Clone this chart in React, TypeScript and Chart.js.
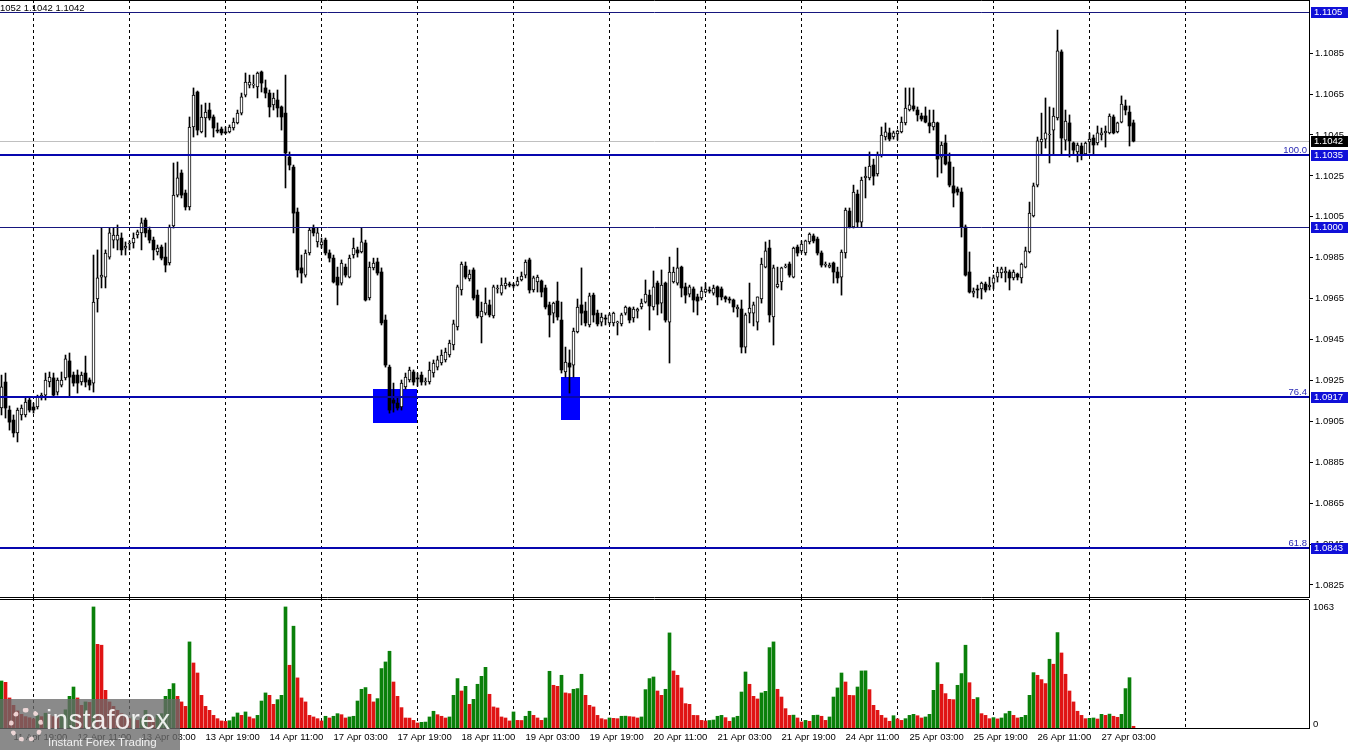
import React, { useEffect, useRef } from 'react';
import { Chart, registerables } from 'chart.js';

Chart.register(...registerables);

// ---------- DATA (EURUSD H1, 11 Apr 16:00 .. 27 Apr 11:00) ----------
const opens = [
  1.09115, 1.09242, 1.09105, 1.09056, 1.08993, 1.09081, 1.09081, 1.09154, 1.09120, 1.09120,
  1.09164, 1.09178, 1.09242, 1.09262, 1.09193, 1.09227, 1.09262, 1.09345, 1.09276, 1.09276,
  1.09242, 1.09286, 1.09252, 1.09237, 1.09648, 1.09755, 1.09755, 1.09853, 1.09936, 1.09936,
  1.09946, 1.09897, 1.09917, 1.09922, 1.09961, 1.09971, 1.10034, 1.09985, 1.09936, 1.09878,
  1.09902, 1.09853, 1.09824, 1.10005, 1.10156, 1.10264, 1.10166, 1.10098, 1.10489, 1.10660,
  1.10465, 1.10533, 1.10572, 1.10538, 1.10474, 1.10479, 1.10465, 1.10465, 1.10484, 1.10509,
  1.10557, 1.10645, 1.10694, 1.10694, 1.10685, 1.10758, 1.10680, 1.10655, 1.10597, 1.10621,
  1.10587, 1.10557, 1.10342, 1.10293, 1.10073, 1.09800, 1.09765, 1.09873, 1.09995, 1.09927,
  1.09912, 1.09936, 1.09873, 1.09848, 1.09755, 1.09726, 1.09804, 1.09755, 1.09863, 1.09888,
  1.09878, 1.09922, 1.09653, 1.09800, 1.09829, 1.09780, 1.09545, 1.09315, 1.09154, 1.09139,
  1.09120, 1.09218, 1.09252, 1.09291, 1.09262, 1.09276, 1.09242, 1.09242, 1.09286, 1.09315,
  1.09335, 1.09350, 1.09374, 1.09423, 1.09511, 1.09692, 1.09809, 1.09746, 1.09790, 1.09667,
  1.09560, 1.09579, 1.09619, 1.09565, 1.09697, 1.09677, 1.09712, 1.09721, 1.09716, 1.09716,
  1.09741, 1.09765, 1.09839, 1.09692, 1.09731, 1.09736, 1.09702, 1.09619, 1.09579, 1.09638,
  1.09545, 1.09291, 1.09335, 1.09325, 1.09487, 1.09619, 1.09589, 1.09521, 1.09667, 1.09579,
  1.09535, 1.09555, 1.09531, 1.09531, 1.09531, 1.09526, 1.09579, 1.09604, 1.09555, 1.09589,
  1.09609, 1.09633, 1.09667, 1.09609, 1.09726, 1.09628, 1.09726, 1.09535, 1.09731, 1.09726,
  1.09804, 1.09707, 1.09672, 1.09697, 1.09658, 1.09653, 1.09682, 1.09692, 1.09677, 1.09707,
  1.09697, 1.09658, 1.09648, 1.09643, 1.09599, 1.09599, 1.09413, 1.09579, 1.09579, 1.09535,
  1.09648, 1.09804, 1.09897, 1.09560, 1.09707, 1.09731, 1.09804, 1.09819, 1.09755, 1.09902,
  1.09883, 1.09873, 1.09927, 1.09956, 1.09941, 1.09873, 1.09814, 1.09804, 1.09824, 1.09780,
  1.09755, 1.09873, 1.10078, 1.10000, 1.10161, 1.10024, 1.10240, 1.10240, 1.10303, 1.10259,
  1.10352, 1.10440, 1.10460, 1.10440, 1.10455, 1.10465, 1.10509, 1.10572, 1.10592, 1.10572,
  1.10543, 1.10543, 1.10509, 1.10489, 1.10509, 1.10342, 1.10411, 1.10318, 1.10201, 1.10186,
  1.10171, 1.10000, 1.09780, 1.09677, 1.09697, 1.09697, 1.09721, 1.09707, 1.09726, 1.09755,
  1.09775, 1.09775, 1.09780, 1.09751, 1.09770, 1.09751, 1.09804, 1.09878, 1.10054, 1.10205,
  1.10416, 1.10430, 1.10450, 1.10474, 1.10533, 1.10856, 1.10425, 1.10509, 1.10411, 1.10367,
  1.10396, 1.10357, 1.10416, 1.10435, 1.10411, 1.10450, 1.10460, 1.10460, 1.10538, 1.10465,
  1.10513, 1.10592, 1.10562, 1.10509,
];
const highs = [
  1.09276, 1.09286, 1.09125, 1.09081, 1.09115, 1.09130, 1.09164, 1.09169, 1.09139, 1.09178,
  1.09188, 1.09286, 1.09291, 1.09286, 1.09262, 1.09291, 1.09374, 1.09384, 1.09291, 1.09301,
  1.09291, 1.09369, 1.09262, 1.09863, 1.09888, 1.09995, 1.09888, 1.09995, 1.09995, 1.10010,
  1.09971, 1.09927, 1.09932, 1.09971, 1.09985, 1.10044, 1.10044, 1.10000, 1.09951, 1.09912,
  1.09912, 1.09922, 1.10010, 1.10313, 1.10318, 1.10279, 1.10181, 1.10538, 1.10680, 1.10665,
  1.10597, 1.10606, 1.10606, 1.10548, 1.10509, 1.10489, 1.10489, 1.10499, 1.10533, 1.10572,
  1.10655, 1.10753, 1.10743, 1.10743, 1.10758, 1.10763, 1.10719, 1.10670, 1.10655, 1.10670,
  1.10592, 1.10743, 1.10367, 1.10303, 1.10093, 1.09863, 1.09888, 1.09995, 1.10010, 1.09995,
  1.09946, 1.09946, 1.09888, 1.09863, 1.09804, 1.09839, 1.09819, 1.09863, 1.09946, 1.09902,
  1.09995, 1.09936, 1.09829, 1.09848, 1.09848, 1.09800, 1.09570, 1.09325, 1.09237, 1.09164,
  1.09252, 1.09286, 1.09315, 1.09301, 1.09286, 1.09291, 1.09262, 1.09340, 1.09350, 1.09369,
  1.09399, 1.09408, 1.09447, 1.09545, 1.09716, 1.09829, 1.09829, 1.09790, 1.09800, 1.09692,
  1.09633, 1.09702, 1.09643, 1.09716, 1.09716, 1.09751, 1.09751, 1.09731, 1.09726, 1.09755,
  1.09780, 1.09839, 1.09848, 1.09760, 1.09765, 1.09741, 1.09716, 1.09633, 1.09633, 1.09731,
  1.09633, 1.09413, 1.09399, 1.09506, 1.09648, 1.09800, 1.09633, 1.09677, 1.09677, 1.09594,
  1.09579, 1.09570, 1.09579, 1.09584, 1.09540, 1.09579, 1.09614, 1.09609, 1.09609, 1.09604,
  1.09648, 1.09741, 1.09692, 1.09785, 1.09736, 1.09790, 1.09731, 1.09853, 1.09804, 1.09897,
  1.09809, 1.09726, 1.09716, 1.09707, 1.09672, 1.09707, 1.09726, 1.09707, 1.09716, 1.09712,
  1.09707, 1.09663, 1.09658, 1.09648, 1.09619, 1.09643, 1.09579, 1.09726, 1.09633, 1.09658,
  1.09848, 1.09927, 1.09936, 1.09814, 1.09804, 1.09804, 1.09819, 1.09829, 1.09902, 1.09912,
  1.09932, 1.09936, 1.09971, 1.09966, 1.09951, 1.09883, 1.09829, 1.09824, 1.09829, 1.09804,
  1.09888, 1.10093, 1.10093, 1.10205, 1.10181, 1.10244, 1.10293, 1.10367, 1.10332, 1.10367,
  1.10489, 1.10509, 1.10484, 1.10469, 1.10474, 1.10538, 1.10680, 1.10680, 1.10680, 1.10587,
  1.10557, 1.10587, 1.10572, 1.10572, 1.10513, 1.10416, 1.10450, 1.10362, 1.10293, 1.10196,
  1.10191, 1.10010, 1.09878, 1.09702, 1.09716, 1.09731, 1.09731, 1.09755, 1.09765, 1.09804,
  1.09804, 1.09804, 1.09790, 1.09790, 1.09775, 1.09824, 1.09902, 1.10122, 1.10215, 1.10440,
  1.10557, 1.10631, 1.10587, 1.10582, 1.10963, 1.10866, 1.10572, 1.10548, 1.10416, 1.10411,
  1.10411, 1.10416, 1.10460, 1.10450, 1.10494, 1.10484, 1.10494, 1.10553, 1.10548, 1.10513,
  1.10641, 1.10621, 1.10592, 1.10523,
];
const lows = [
  1.09081, 1.09066, 1.09007, 1.08973, 1.08949, 1.09056, 1.09071, 1.09095, 1.09090, 1.09110,
  1.09154, 1.09154, 1.09218, 1.09169, 1.09178, 1.09218, 1.09252, 1.09169, 1.09222, 1.09188,
  1.09227, 1.09218, 1.09203, 1.09193, 1.09584, 1.09702, 1.09702, 1.09843, 1.09897, 1.09888,
  1.09863, 1.09863, 1.09888, 1.09897, 1.09946, 1.09888, 1.09951, 1.09922, 1.09839, 1.09863,
  1.09839, 1.09780, 1.09814, 1.09995, 1.10147, 1.10142, 1.10083, 1.10083, 1.10440, 1.10450,
  1.10460, 1.10440, 1.10523, 1.10440, 1.10460, 1.10450, 1.10455, 1.10460, 1.10474, 1.10504,
  1.10548, 1.10636, 1.10680, 1.10680, 1.10631, 1.10660, 1.10631, 1.10538, 1.10572, 1.10538,
  1.10474, 1.10191, 1.10279, 1.09971, 1.09755, 1.09726, 1.09755, 1.09863, 1.09956, 1.09902,
  1.09897, 1.09863, 1.09829, 1.09726, 1.09619, 1.09716, 1.09755, 1.09751, 1.09848, 1.09853,
  1.09873, 1.09638, 1.09643, 1.09790, 1.09765, 1.09521, 1.09315, 1.09090, 1.09095, 1.09105,
  1.09105, 1.09208, 1.09242, 1.09227, 1.09222, 1.09227, 1.09227, 1.09232, 1.09266, 1.09301,
  1.09325, 1.09340, 1.09364, 1.09399, 1.09496, 1.09667, 1.09746, 1.09736, 1.09643, 1.09555,
  1.09433, 1.09570, 1.09560, 1.09555, 1.09677, 1.09667, 1.09697, 1.09707, 1.09702, 1.09712,
  1.09736, 1.09751, 1.09677, 1.09682, 1.09682, 1.09658, 1.09599, 1.09462, 1.09531, 1.09545,
  1.09286, 1.09266, 1.09188, 1.09266, 1.09482, 1.09521, 1.09516, 1.09511, 1.09535, 1.09516,
  1.09516, 1.09521, 1.09521, 1.09516, 1.09472, 1.09516, 1.09570, 1.09531, 1.09535, 1.09555,
  1.09599, 1.09628, 1.09496, 1.09594, 1.09570, 1.09579, 1.09535, 1.09335, 1.09726, 1.09716,
  1.09658, 1.09628, 1.09658, 1.09584, 1.09570, 1.09643, 1.09677, 1.09677, 1.09667, 1.09619,
  1.09643, 1.09633, 1.09628, 1.09584, 1.09560, 1.09384, 1.09384, 1.09531, 1.09516, 1.09496,
  1.09628, 1.09800, 1.09535, 1.09423, 1.09702, 1.09692, 1.09800, 1.09755, 1.09751, 1.09858,
  1.09873, 1.09863, 1.09917, 1.09922, 1.09863, 1.09804, 1.09804, 1.09800, 1.09726, 1.09726,
  1.09667, 1.09848, 1.09995, 1.09995, 1.10000, 1.10000, 1.10142, 1.10230, 1.10205, 1.10249,
  1.10342, 1.10425, 1.10421, 1.10430, 1.10425, 1.10460, 1.10499, 1.10567, 1.10567, 1.10518,
  1.10518, 1.10509, 1.10460, 1.10474, 1.10244, 1.10264, 1.10303, 1.10196, 1.10098, 1.10156,
  1.09951, 1.09760, 1.09677, 1.09658, 1.09653, 1.09648, 1.09682, 1.09692, 1.09697, 1.09731,
  1.09751, 1.09731, 1.09692, 1.09741, 1.09741, 1.09726, 1.09800, 1.09873, 1.10049, 1.10196,
  1.10352, 1.10386, 1.10313, 1.10352, 1.10523, 1.10352, 1.10376, 1.10342, 1.10352, 1.10318,
  1.10328, 1.10352, 1.10362, 1.10352, 1.10401, 1.10425, 1.10391, 1.10455, 1.10455, 1.10460,
  1.10509, 1.10548, 1.10396, 1.10416,
];
const closes = [
  1.09218, 1.09115, 1.09046, 1.08993, 1.09105, 1.09115, 1.09144, 1.09105, 1.09105, 1.09169,
  1.09178, 1.09252, 1.09266, 1.09178, 1.09252, 1.09252, 1.09355, 1.09266, 1.09237, 1.09237,
  1.09276, 1.09242, 1.09227, 1.09633, 1.09751, 1.09765, 1.09873, 1.09971, 1.09961, 1.09961,
  1.09888, 1.09907, 1.09922, 1.09946, 1.09976, 1.10020, 1.09971, 1.09936, 1.09888, 1.09897,
  1.09848, 1.09814, 1.10000, 1.10156, 1.10240, 1.10156, 1.10098, 1.10489, 1.10645, 1.10474,
  1.10538, 1.10562, 1.10533, 1.10484, 1.10469, 1.10460, 1.10460, 1.10489, 1.10513, 1.10557,
  1.10636, 1.10709, 1.10709, 1.10699, 1.10753, 1.10704, 1.10655, 1.10587, 1.10631, 1.10582,
  1.10538, 1.10362, 1.10303, 1.10068, 1.09790, 1.09775, 1.09873, 1.09985, 1.09971, 1.09971,
  1.09927, 1.09873, 1.09848, 1.09731, 1.09716, 1.09824, 1.09765, 1.09848, 1.09897, 1.09873,
  1.09927, 1.09643, 1.09804, 1.09824, 1.09775, 1.09531, 1.09325, 1.09105, 1.09139, 1.09115,
  1.09237, 1.09266, 1.09301, 1.09242, 1.09257, 1.09242, 1.09247, 1.09301, 1.09335, 1.09350,
  1.09374, 1.09389, 1.09433, 1.09526, 1.09707, 1.09819, 1.09755, 1.09770, 1.09653, 1.09565,
  1.09589, 1.09628, 1.09570, 1.09707, 1.09702, 1.09716, 1.09726, 1.09716, 1.09712, 1.09736,
  1.09760, 1.09829, 1.09692, 1.09751, 1.09755, 1.09682, 1.09609, 1.09570, 1.09628, 1.09560,
  1.09301, 1.09340, 1.09315, 1.09491, 1.09609, 1.09579, 1.09531, 1.09663, 1.09570, 1.09526,
  1.09560, 1.09550, 1.09570, 1.09579, 1.09535, 1.09570, 1.09609, 1.09545, 1.09599, 1.09599,
  1.09628, 1.09672, 1.09614, 1.09707, 1.09623, 1.09716, 1.09545, 1.09780, 1.09780, 1.09800,
  1.09702, 1.09667, 1.09707, 1.09643, 1.09638, 1.09687, 1.09697, 1.09687, 1.09702, 1.09658,
  1.09658, 1.09648, 1.09643, 1.09609, 1.09609, 1.09413, 1.09570, 1.09604, 1.09619, 1.09658,
  1.09819, 1.09883, 1.09570, 1.09800, 1.09721, 1.09800, 1.09809, 1.09765, 1.09897, 1.09873,
  1.09917, 1.09932, 1.09966, 1.09932, 1.09873, 1.09814, 1.09819, 1.09814, 1.09780, 1.09751,
  1.09878, 1.10083, 1.10000, 1.10171, 1.10024, 1.10230, 1.10249, 1.10298, 1.10249, 1.10352,
  1.10450, 1.10465, 1.10430, 1.10460, 1.10469, 1.10513, 1.10582, 1.10597, 1.10577, 1.10548,
  1.10528, 1.10513, 1.10494, 1.10513, 1.10332, 1.10401, 1.10308, 1.10205, 1.10166, 1.10171,
  1.10000, 1.09765, 1.09682, 1.09687, 1.09692, 1.09726, 1.09692, 1.09716, 1.09751, 1.09780,
  1.09795, 1.09785, 1.09751, 1.09780, 1.09755, 1.09819, 1.09883, 1.10068, 1.10201, 1.10421,
  1.10430, 1.10460, 1.10455, 1.10543, 1.10861, 1.10435, 1.10518, 1.10421, 1.10376, 1.10401,
  1.10352, 1.10411, 1.10430, 1.10401, 1.10460, 1.10460, 1.10469, 1.10543, 1.10460, 1.10509,
  1.10601, 1.10572, 1.10494, 1.10420,
];
const volumes = [
  413, 401, 264, 199, 150, 120, 100, 90, 80, 110,
  100, 130, 110, 100, 90, 120, 160, 278, 360, 264,
  199, 229, 225, 1063, 735, 727, 331, 229, 190, 155,
  126, 97, 82, 97, 67, 82, 155, 97, 82, 111,
  126, 278, 340, 390, 278, 229, 190, 756, 571, 483,
  287, 190, 155, 111, 82, 62, 58, 64, 97, 132,
  111, 141, 97, 82, 111, 237, 308, 287, 208, 249,
  287, 1063, 551, 894, 440, 264, 229, 111, 97, 82,
  62, 103, 88, 103, 126, 117, 88, 97, 103, 237,
  340, 355, 296, 229, 258, 522, 580, 674, 404, 278,
  179, 88, 87, 67, 44, 50, 52, 97, 147, 117,
  103, 88, 97, 287, 434, 325, 366, 208, 252, 384,
  454, 533, 296, 185, 176, 97, 88, 62, 141, 67,
  66, 103, 147, 111, 88, 67, 88, 498, 375, 366,
  463, 308, 302, 340, 346, 472, 287, 199, 185, 111,
  82, 73, 88, 85, 82, 103, 104, 100, 97, 88,
  97, 337, 434, 448, 325, 287, 340, 835, 501, 463,
  352, 214, 208, 111, 110, 67, 62, 66, 70, 103,
  111, 91, 59, 91, 103, 316, 492, 384, 278, 255,
  308, 322, 706, 756, 340, 272, 170, 111, 113, 88,
  53, 67, 59, 111, 113, 103, 67, 97, 272, 352,
  483, 404, 287, 285, 360, 501, 502, 337, 199, 155,
  111, 88, 59, 108, 80, 67, 82, 111, 120, 108,
  88, 97, 120, 331, 574, 384, 302, 252, 249, 375,
  478, 727, 398, 252, 267, 126, 111, 82, 91, 80,
  88, 126, 147, 111, 88, 94, 111, 287, 486, 463,
  425, 390, 604, 560, 838, 659, 472, 325, 229, 147,
  111, 82, 85, 88, 79, 120, 111, 122, 103, 94,
  120, 346, 442, 15,
];

// bar index of each day start (00:00) -> vertical dashed grid
const dayStartIdx = [8, 32, 56, 80, 104, 128, 152, 176, 200, 224, 248, 272, 296];
// time axis labels
const timeLabelIdx = [3, 19, 35, 51, 67, 83, 99, 115, 131, 147, 163, 179, 195, 211, 227, 243, 259, 275];
const timeLabels = [
  '11 Apr 19:00', '12 Apr 11:00', '13 Apr 03:00', '13 Apr 19:00', '14 Apr 11:00', '17 Apr 03:00',
  '17 Apr 19:00', '18 Apr 11:00', '19 Apr 03:00', '19 Apr 19:00', '20 Apr 11:00', '21 Apr 03:00',
  '21 Apr 19:00', '24 Apr 11:00', '25 Apr 03:00', '25 Apr 19:00', '26 Apr 11:00', '27 Apr 03:00',
];
const priceTicks = [1.1085, 1.1065, 1.1045, 1.1025, 1.1005, 1.0985, 1.0965, 1.0945, 1.0925, 1.0905, 1.0885, 1.0865, 1.0845, 1.0825];
const levelPrices = [1.1105, 1.1035, 1.1, 1.0917, 1.0843];
const fiboPrices = [1.1035, 1.0917, 1.0843];
const fiboTexts = ['100.0', '76.4', '61.8'];
const currentPrice = 1.1042;
const zoneStart = [92.875, 139.875];
const zoneEnd = [103.875, 144.625];
const zoneHigh = [1.09208, 1.09266];
const zoneLow = [1.09042, 1.09056];
const volumeMaxLabel = 1063;
const headerText = '1052 1.1042 1.1042';

// ---------- STYLE ----------
const FONT = "'Liberation Sans', Arial, sans-serif";
const FS = 9.5;
const levelWidths = [1, 2, 1, 2, 2];
const THIN_COLOR = '#16167e';
const THICK_COLOR = '#0606ae';
const BOX_BLUE = '#1010d8';
const GREEN = '#0a800a';
const RED = '#e01414';
const PLOT_RIGHT = 1309;

function hline(ctx: any, y: number, w: number, color: string, x0: number, x1: number) {
  ctx.strokeStyle = color;
  ctx.lineWidth = w;
  const yy = w % 2 === 1 ? Math.floor(y) + 0.5 : Math.round(y);
  ctx.beginPath();
  ctx.moveTo(x0, yy);
  ctx.lineTo(x1, yy);
  ctx.stroke();
}

export default function App() {
  const mainRef = useRef<HTMLCanvasElement>(null);
  const volRef = useRef<HTMLCanvasElement>(null);

  useEffect(() => {
    const idx = opens.map((_, i) => i);
    const xMin = -0.375;
    const xMax = xMin + PLOT_RIGHT / 4;
    const yMax = 1.1111;
    const yMin = 1.08186;
    const volAxisMax = 1124;

    const mainDecor = {
      id: 'mainDecor',
      beforeDatasetsDraw(chart: any) {
        const { ctx, chartArea: a, scales } = chart;
        const x = scales.x, y = scales.y;
        ctx.save();
        hline(ctx, y.getPixelForValue(currentPrice), 1, '#c0c0c0', a.left, a.right);
        ctx.strokeStyle = '#000';
        ctx.lineWidth = 1;
        ctx.setLineDash([3, 3]);
        dayStartIdx.forEach((d) => {
          const px = Math.floor(x.getPixelForValue(d)) + 0.5;
          if (px > a.right) return;
          ctx.beginPath();
          ctx.moveTo(px, a.top);
          ctx.lineTo(px, a.bottom);
          ctx.stroke();
        });
        ctx.setLineDash([]);
        ctx.fillStyle = '#0000ff';
        zoneStart.forEach((s, k) => {
          const x0 = Math.round(x.getPixelForValue(s));
          const x1 = Math.round(x.getPixelForValue(zoneEnd[k]));
          const y0 = Math.round(y.getPixelForValue(zoneHigh[k]));
          const y1 = Math.round(y.getPixelForValue(zoneLow[k]));
          ctx.fillRect(x0, y0, x1 - x0, y1 - y0);
        });
        ctx.restore();
      },
      afterDatasetsDraw(chart: any) {
        const { ctx, chartArea: a, scales } = chart;
        const y = scales.y;
        ctx.save();
        levelPrices.forEach((p, k) => {
          const w = levelWidths[k];
          hline(ctx, y.getPixelForValue(p), w, w > 1 ? THICK_COLOR : THIN_COLOR, a.left, a.right);
        });
        ctx.font = `${FS}px ${FONT}`;
        ctx.fillStyle = '#2a2ab4';
        ctx.textAlign = 'right';
        ctx.textBaseline = 'alphabetic';
        fiboPrices.forEach((p, k) => {
          ctx.fillText(fiboTexts[k], a.right - 2, Math.round(y.getPixelForValue(p)) - 2);
        });
        hline(ctx, 0, 1, '#000', 0, a.right);
        hline(ctx, a.bottom - 1, 1, '#000', 0, a.right);
        ctx.fillStyle = '#000';
        ctx.textAlign = 'left';
        ctx.fillText(headerText, 0, 11);
        ctx.restore();
      },
      afterDraw(chart: any) {
        const { ctx, scales } = chart;
        const y = scales.y;
        ctx.save();
        ctx.font = `${FS}px ${FONT}`;
        ctx.textAlign = 'left';
        ctx.textBaseline = 'middle';
        const box = (p: number, bg: string) => {
          const py = Math.round(y.getPixelForValue(p));
          ctx.fillStyle = bg;
          ctx.fillRect(PLOT_RIGHT + 2, py - 5, 37, 11);
          ctx.fillStyle = '#fff';
          ctx.fillText(p.toFixed(4), PLOT_RIGHT + 5, py + 0.5);
        };
        levelPrices.forEach((p) => box(p, BOX_BLUE));
        box(currentPrice, '#000');
        ctx.restore();
      },
    };

    const volDecor = {
      id: 'volDecor',
      beforeDatasetsDraw(chart: any) {
        const { ctx, chartArea: a, scales } = chart;
        const x = scales.x;
        ctx.save();
        ctx.strokeStyle = '#000';
        ctx.lineWidth = 1;
        ctx.setLineDash([3, 3]);
        dayStartIdx.forEach((d) => {
          const px = Math.floor(x.getPixelForValue(d)) + 0.5;
          if (px > a.right) return;
          ctx.beginPath();
          ctx.moveTo(px, 0);
          ctx.lineTo(px, a.bottom);
          ctx.stroke();
        });
        ctx.restore();
      },
      afterDraw(chart: any) {
        const { ctx, chartArea: a, scales } = chart;
        const y = scales.y;
        ctx.save();
        hline(ctx, 1, 1, '#000', 0, a.right);
        hline(ctx, a.bottom, 1, '#000', 0, a.right);
        ctx.font = `${FS}px ${FONT}`;
        ctx.fillStyle = '#000';
        ctx.textAlign = 'left';
        ctx.textBaseline = 'middle';
        ctx.fillText(String(volumeMaxLabel), PLOT_RIGHT + 4, Math.round(y.getPixelForValue(volumeMaxLabel)));
        ctx.textBaseline = 'alphabetic';
        ctx.fillText('0', PLOT_RIGHT + 4, a.bottom - 1);
        ctx.restore();
      },
    };

    const main = new Chart(mainRef.current as HTMLCanvasElement, {
      type: 'bar',
      data: {
        datasets: [
          {
            label: 'wick',
            data: idx.map((i) => ({ x: i, y: [Math.min(lows[i], opens[i], closes[i]), Math.max(highs[i], opens[i], closes[i])] })),
            backgroundColor: '#000',
            barThickness: 1,
            grouped: false,
            order: 3,
            minBarLength: 1,
          },
          {
            label: 'up',
            data: idx.filter((i) => closes[i] >= opens[i]).map((i) => ({ x: i, y: [opens[i], closes[i]] })),
            backgroundColor: '#fff',
            borderColor: '#000',
            borderWidth: 1,
            borderSkipped: false,
            barThickness: 3,
            grouped: false,
            order: 1,
            minBarLength: 1,
          },
          {
            label: 'down',
            data: idx.filter((i) => closes[i] < opens[i]).map((i) => ({ x: i, y: [opens[i], closes[i]] })),
            backgroundColor: '#000',
            borderWidth: 0,
            barThickness: 3,
            grouped: false,
            order: 1,
            minBarLength: 1,
          },
        ] as any,
      },
      options: {
        responsive: false,
        animation: false,
        devicePixelRatio: 1,
        events: [],
        layout: { padding: 0 },
        plugins: { legend: { display: false }, tooltip: { enabled: false } },
        scales: {
          x: { type: 'linear', min: xMin, max: xMax, offset: false, display: false },
          y: {
            position: 'right',
            min: yMin,
            max: yMax,
            afterBuildTicks: (s: any) => { s.ticks = priceTicks.map((v) => ({ value: v })); },
            ticks: {
              callback: (v: any) => Number(v).toFixed(4),
              font: { family: FONT, size: FS },
              color: '#000',
              padding: 2,
              autoSkip: false,
            },
            grid: { drawOnChartArea: false, drawTicks: true, tickLength: 4, color: '#000' },
            border: { display: true, color: '#000' },
            afterFit: (s: any) => { s.width = 1350 - PLOT_RIGHT; s.paddingTop = 0; s.paddingBottom = 0; },
          },
        },
      } as any,
      plugins: [mainDecor],
    });

    const vol = new Chart(volRef.current as HTMLCanvasElement, {
      type: 'bar',
      data: {
        datasets: [
          {
            label: 'volume',
            data: idx.map((i) => ({ x: i, y: volumes[i] })),
            backgroundColor: idx.map((i) => (i === 0 || volumes[i] > volumes[i - 1] ? GREEN : RED)),
            barThickness: 3,
            grouped: false,
          },
        ] as any,
      },
      options: {
        responsive: false,
        animation: false,
        devicePixelRatio: 1,
        events: [],
        layout: { padding: { top: 2, left: 0, right: 0, bottom: 0 } },
        plugins: { legend: { display: false }, tooltip: { enabled: false } },
        scales: {
          x: {
            type: 'linear',
            min: xMin,
            max: xMax,
            offset: false,
            afterBuildTicks: (s: any) => { s.ticks = timeLabelIdx.map((v) => ({ value: v })); },
            ticks: {
              callback: (_v: any, i: number) => timeLabels[i],
              align: 'start',
              autoSkip: false,
              maxRotation: 0,
              minRotation: 0,
              padding: 4,
              color: '#000',
              font: { family: FONT, size: FS },
            },
            grid: { display: false, drawTicks: false },
            border: { display: false },
            afterFit: (s: any) => { s.height = 22; s.paddingLeft = 0; s.paddingRight = 0; },
          },
          y: {
            position: 'right',
            min: 0,
            max: volAxisMax,
            ticks: { display: false },
            grid: { display: false, drawTicks: false },
            border: { display: true, color: '#000' },
            afterFit: (s: any) => { s.width = 1350 - PLOT_RIGHT; s.paddingTop = 0; s.paddingBottom = 0; },
          },
        },
      } as any,
      plugins: [volDecor],
    });

    return () => {
      main.destroy();
      vol.destroy();
    };
  }, []);

  return (
    <div style={{ position: 'fixed', left: 0, top: 0, width: 1350, height: 750, background: '#fff', overflow: 'hidden' }}>
      <canvas ref={mainRef} width={1350} height={598} style={{ position: 'absolute', left: 0, top: 0 }} />
      <canvas ref={volRef} width={1350} height={152} style={{ position: 'absolute', left: 0, top: 598 }} />
      <div
        style={{
          position: 'absolute', left: 0, top: 699, width: 180, height: 51,
          background: 'rgba(105,105,105,0.78)', fontFamily: FONT, color: 'rgba(255,255,255,0.88)',
        }}
      >
        <div
          style={{
            position: 'absolute', left: 9, top: 9, width: 24, height: 24, borderRadius: '50%',
            border: '5px dotted rgba(255,230,230,0.85)',
          }}
        />
        <div style={{ position: 'absolute', left: 46, top: 5, fontSize: 28, lineHeight: '32px', letterSpacing: 0.3 }}>instaforex</div>
        <div style={{ position: 'absolute', left: 48, top: 37, fontSize: 11.5, lineHeight: '13px' }}>Instant Forex Trading</div>
      </div>
    </div>
  );
}
